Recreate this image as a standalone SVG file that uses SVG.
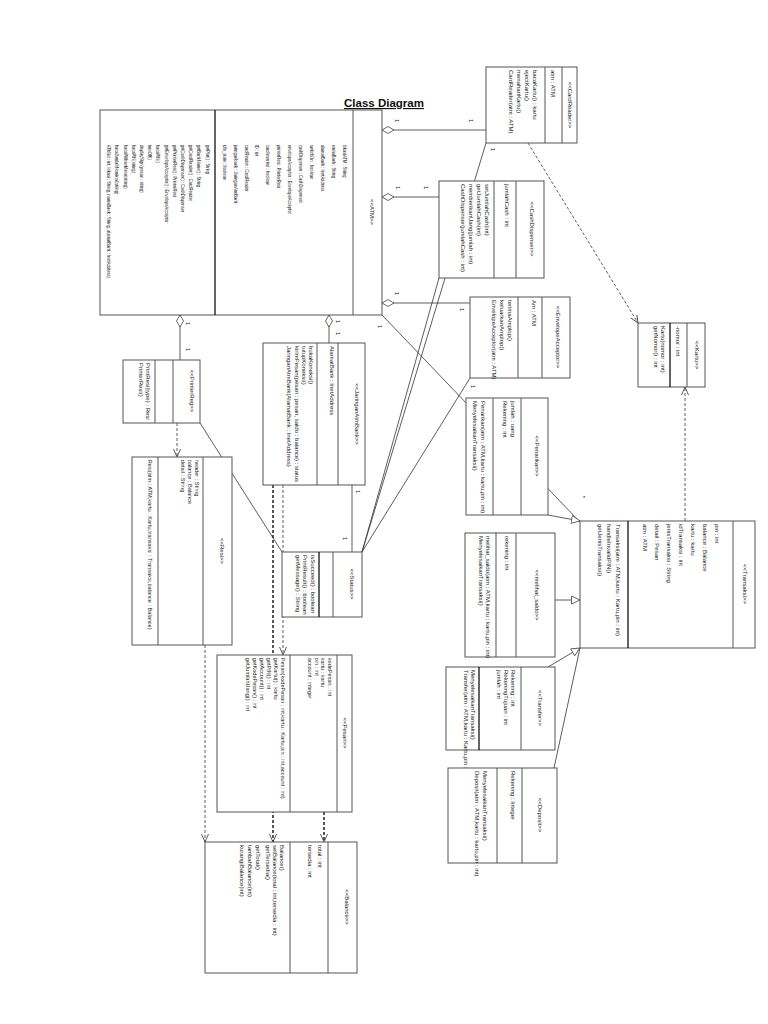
<svg xmlns="http://www.w3.org/2000/svg" width="768" height="1024" viewBox="0 0 768 1024">
<style>
.box{fill:#fff;stroke:#555;stroke-width:1}
.dv{stroke:#555;stroke-width:1}
.dk{stroke:#111;stroke-width:1.3}
.t{font-family:"Liberation Sans",Arial,sans-serif;font-size:6px;fill:#222}
.h{text-anchor:middle}
.c{stroke:#333;stroke-width:0.8;fill:none}
.d1{stroke-dasharray:3,2}
.d2{stroke-dasharray:3,2;stroke-width:1.4;stroke:#111}
.n{font-family:"Liberation Sans",Arial,sans-serif;font-size:6px;fill:#222}
</style>
<defs>
<marker id="dia" markerUnits="userSpaceOnUse" markerWidth="14" markerHeight="9" refX="0.5" refY="4" orient="auto"><path d="M0.5,4 L6.5,0.5 L12.5,4 L6.5,7.5 Z" fill="#fff" stroke="#444" stroke-width="0.8"/></marker>
<marker id="tri" markerUnits="userSpaceOnUse" markerWidth="10" markerHeight="10" refX="9" refY="4.5" orient="auto"><path d="M0.5,0.5 L9,4.5 L0.5,8.5 Z" fill="#fff" stroke="#444" stroke-width="0.8"/></marker>
<marker id="arr" markerUnits="userSpaceOnUse" markerWidth="10" markerHeight="10" refX="8" refY="4" orient="auto"><path d="M0,0.5 L8,4 L0,7.5" fill="none" stroke="#333" stroke-width="0.8"/></marker>
</defs>
<rect width="768" height="1024" fill="#fff"/>
<text x="384" y="107" text-anchor="middle" font-family="Liberation Sans,Arial,sans-serif" font-size="11.5" font-weight="bold" text-decoration="underline" fill="#111">Class Diagram</text>

<g id="connectors">
<line class="c" x1="382" y1="130" x2="486" y2="130" marker-start="url(#dia)"/>
<line class="c" x1="382" y1="197" x2="439" y2="197" marker-start="url(#dia)"/>
<line class="c" x1="382" y1="303" x2="470" y2="303" marker-start="url(#dia)"/>
<line class="c" x1="329" y1="315" x2="329" y2="343" marker-start="url(#dia)"/>
<line class="c" x1="180" y1="315" x2="180" y2="360" marker-start="url(#dia)"/>
<line class="c" x1="382" y1="315" x2="578" y2="520"/>
<line class="c" x1="548" y1="515" x2="580" y2="521" marker-end="url(#tri)"/>
<line class="c" x1="555" y1="600" x2="580" y2="600" marker-end="url(#tri)"/>
<line class="c" x1="548" y1="667" x2="580" y2="648" marker-end="url(#tri)"/>
<line class="c" x1="554" y1="768" x2="580" y2="648"/>
<line class="c" x1="486" y1="143" x2="362" y2="552"/>
<line class="c" x1="439" y1="278" x2="362" y2="552"/>
<line class="c" x1="470" y1="378" x2="362" y2="552"/>
<line class="c" x1="352" y1="485" x2="352" y2="552"/>
<line class="c" x1="200" y1="423" x2="282" y2="552"/>
<line class="c d1" x1="528" y1="143" x2="638" y2="323" marker-end="url(#arr)"/>
<line class="c d1" x1="685" y1="521" x2="685" y2="387" marker-end="url(#arr)"/>
<line class="c d1" x1="177" y1="423" x2="177" y2="457" marker-end="url(#arr)"/>
<line class="c d1" x1="283" y1="485" x2="283" y2="655" marker-end="url(#arr)"/>
<line class="c d2" x1="273" y1="485" x2="273" y2="842" marker-end="url(#arr)"/>
<line class="c d2" x1="324" y1="812" x2="324" y2="842" marker-end="url(#arr)"/>
<line class="c d1" x1="205" y1="645" x2="205" y2="842" marker-end="url(#arr)"/>
<g class="n">
<text transform="translate(395,119) rotate(90)">1</text>
<text transform="translate(469,119) rotate(90)">1</text>
<text transform="translate(396,186) rotate(90)">1</text>
<text transform="translate(424,186) rotate(90)">1</text>
<text transform="translate(395,292) rotate(90)">1</text>
<text transform="translate(460,308) rotate(90)">1</text>
<text transform="translate(336,320) rotate(90)">1</text>
<text transform="translate(336,332) rotate(90)">1</text>
<text transform="translate(186,322) rotate(90)">1</text>
<text transform="translate(186,348) rotate(90)">1</text>
<text transform="translate(378,325) rotate(90)">1</text>
<text transform="translate(491,148) rotate(90)">1</text>
<text transform="translate(471,385) rotate(90)">1</text>
<text transform="translate(356,490) rotate(90)">1</text>
<text transform="translate(343,537) rotate(90)">1</text>
<text x="583" y="500">*</text>
</g>
</g>

<g id="atm" transform="translate(382,110) rotate(90)">
<rect class="box" width="205" height="282"/>
<line class="dv" x1="0" y1="29" x2="205" y2="29"/>
<line class="dk" x1="0" y1="167" x2="205" y2="167"/>
<text class="t h" x="102" y="12">&lt;&lt;ATM&gt;&gt;</text>
<g transform="scale(0.68,1)" class="t">
<text x="51" y="39">lokasiATM : String</text>
<text x="51" y="50">namaBank : String</text>
<text x="51" y="61">alamatBank : InetAddress</text>
<text x="51" y="72">switchOn : boolean</text>
<text x="51" y="83">cashDispenser : CashDispenser</text>
<text x="51" y="94">envelopeAcceptor : EnvelopeAcceptor</text>
<text x="51" y="105">printerResi : PrinterResi</text>
<text x="51" y="116">cardInserted : boolean</text>
<text x="51" y="127">ID : int</text>
<text x="51" y="137">cardReader : CardReader</text>
<text x="51" y="148">jaringanbank : JaringanAtmBank</text>
<text x="51" y="159">idle_state : boolean</text>
<text x="51" y="176.5">getPlat() : String</text>
<text x="51" y="184.7">getBankName() : String</text>
<text x="51" y="192.9">getCardReader() : CardReader</text>
<text x="51" y="201.1">getCashDispenser() : CashDispenser</text>
<text x="51" y="209.3">getPrinterResi() : PrinterResi</text>
<text x="51" y="217.5">getEnvelopeAcceptor() : EnvelopeAcceptor</text>
<text x="51" y="225.7">bacaPIN()</text>
<text x="51" y="233.9">turnOff()</text>
<text x="51" y="242.1">displaySign(pesan : string)</text>
<text x="51" y="250.3">bacaPIN(string)</text>
<text x="51" y="258.5">bacaPilihanMenu(string)</text>
<text x="51" y="266.7">bacaJumlahNominal(string)</text>
<text x="51" y="274.9">ATM(id : int, lokasi : String, namaBank : String, alamatBank : InetAddress)</text>
</g>
</g>

<g id="cardreader" transform="translate(577,67) rotate(90)">
<rect class="box" width="76" height="91"/>
<line class="dv" x1="0" y1="15" x2="76" y2="15"/>
<line class="dv" x1="0" y1="32" x2="76" y2="32"/>
<g class="t">
<text class="h" x="38" y="9">&lt;&lt;CardReader&gt;&gt;</text>
<text x="3" y="26">atm : ATM</text>
<text x="3" y="44">bacaKartu() : kartu</text>
<text x="3" y="52">ejectKartu()</text>
<text x="3" y="60">menahanKartu()</text>
<text x="3" y="68">CardReader(atm : ATM)</text>
</g>
</g>

<g id="cashdispenser" transform="translate(544,181) rotate(90)">
<rect class="box" width="97" height="105"/>
<line class="dv" x1="0" y1="28" x2="97" y2="28"/>
<line class="dv" x1="0" y1="50" x2="97" y2="50"/>
<g class="t">
<text class="h" x="48" y="14">&lt;&lt;CashDispenser&gt;&gt;</text>
<text x="3" y="39">jumlahCash : int</text>
<text x="3" y="59">setJumlahCash(int)</text>
<text x="3" y="67">getJumlahCash(int)</text>
<text x="3" y="75">memberikanUang(jumlah : int)</text>
<text x="3" y="83">CashDispenser(jumlahCash : int)</text>
</g>
</g>

<g id="envelopeacceptor" transform="translate(570,297) rotate(90)">
<rect class="box" width="81" height="100"/>
<line class="dv" x1="0" y1="28" x2="81" y2="28"/>
<line class="dv" x1="0" y1="52" x2="81" y2="52"/>
<g class="t">
<text class="h" x="40" y="14">&lt;&lt;EnvelopeAcceptor&gt;&gt;</text>
<text x="3" y="38">Am : ATM</text>
<text x="3" y="62">terimaAmplop()</text>
<text x="3" y="70">keluarkanAmplop()</text>
<text x="3" y="78">EnvelopeAcceptor(atm : ATM)</text>
</g>
</g>

<g id="kartu" transform="translate(705,323) rotate(90)">
<rect class="box" width="64" height="67"/>
<line class="dv" x1="0" y1="18" x2="64" y2="18"/>
<line class="dk" x1="0" y1="35" x2="64" y2="35"/>
<g class="t">
<text class="h" x="32" y="10">&lt;&lt;Kartu&gt;&gt;</text>
<text x="3" y="29">-nomor : int</text>
<text x="3" y="44">Kartu(nomor : int)</text>
<text x="3" y="51">getNomor() : int</text>
</g>
</g>

<g id="penarikan" transform="translate(548,398) rotate(90)">
<rect class="box" width="117" height="82"/>
<line class="dv" x1="0" y1="27" x2="117" y2="27"/>
<line class="dv" x1="0" y1="55" x2="117" y2="55"/>
<g class="t">
<text class="h" x="58" y="13">&lt;&lt;Penarikan&gt;&gt;</text>
<text x="3" y="37">jumlah : uang</text>
<text x="3" y="45">Rekening : int</text>
<text x="3" y="67">Penarikan(atm : ATM,kartu : kartu,pin : int)</text>
<text x="3" y="75">MenyelesaikanTransaksi()</text>
</g>
</g>

<g id="transaksi" transform="translate(755,521) rotate(90)">
<rect class="box" width="127" height="175"/>
<line class="dv" x1="0" y1="22" x2="127" y2="22"/>
<line class="dk" x1="0" y1="127" x2="127" y2="127"/>
<g class="t">
<text class="h" x="63" y="12">&lt;&lt;Transaksi&gt;&gt;</text>
<text x="3" y="40">pin : int</text>
<text x="3" y="52">balance : Balance</text>
<text x="3" y="64">kartu : kartu</text>
<text x="3" y="76">idTransaksi : int</text>
<text x="3" y="88">jenisTransaksi : String</text>
<text x="3" y="100">detail : Pesan</text>
<text x="3" y="112">atm : ATM</text>
<text x="3" y="139">Transaksi(atm : ATM,kartu : Kartu,pin : int)</text>
<text x="3" y="148">handleInvalidPIN()</text>
<text x="3" y="157">getJenisTransaksi()</text>
</g>
</g>

<g id="melihat_saldo" transform="translate(555,533) rotate(90)">
<rect class="box" width="124" height="90"/>
<line class="dv" x1="0" y1="39" x2="124" y2="39"/>
<line class="dv" x1="0" y1="59" x2="124" y2="59"/>
<g class="t">
<text class="h" x="62" y="20">&lt;&lt;melihat_saldo&gt;&gt;</text>
<text x="3" y="50">rekening : int</text>
<text x="3" y="69">melihat_saldo(atm : ATM,kartu : kartu,pin : int)</text>
<text x="3" y="76">MenyelesaikanTransaksi()</text>
</g>
</g>

<g id="transfer" transform="translate(555,667) rotate(90)">
<rect class="box" width="83" height="109"/>
<line class="dv" x1="0" y1="34" x2="83" y2="34"/>
<line class="dk" x1="0" y1="76" x2="83" y2="76"/>
<g class="t">
<text class="h" x="41" y="17">&lt;&lt;Transfer&gt;&gt;</text>
<text x="3" y="44">Rekening : int</text>
<text x="3" y="51">RekeningTujuan : int</text>
<text x="3" y="58">jumlah : int</text>
<text x="3" y="84">MenyelesaikanTransaksi()</text>
<text x="3" y="91">Transfer(atm : ATM,kartu : Kartu,pin : int)</text>
</g>
</g>

<g id="deposit" transform="translate(557,768) rotate(90)">
<rect class="box" width="95" height="109"/>
<line class="dv" x1="0" y1="35" x2="95" y2="35"/>
<line class="dv" x1="0" y1="60" x2="95" y2="60"/>
<g class="t">
<text class="h" x="47" y="19">&lt;&lt;Deposit&gt;&gt;</text>
<text x="3" y="46">Rekening : Integer</text>
<text x="3" y="74">MenyelesaikanTransaksi()</text>
<text x="3" y="82">Deposit(atm : ATM,kartu : kartu,pin : int)</text>
</g>
</g>

<g id="jaringanatmbank" transform="translate(365,343) rotate(90)">
<rect class="box" width="142" height="102"/>
<line class="dv" x1="0" y1="27" x2="142" y2="27"/>
<line class="dv" x1="0" y1="48" x2="142" y2="48"/>
<g class="t">
<text class="h" x="71" y="10">&lt;&lt;JaringanAtmBank&gt;&gt;</text>
<text x="3" y="35">AlamatBank : InetAddress</text>
<text x="3" y="56">bukaKoneksi()</text>
<text x="3" y="63">tutupKoneksi()</text>
<text x="3" y="70">kirimPesan(pesan : pesan, saldo : balance) : status</text>
<text x="3" y="78">JaringanAtmBank(AlamatBank : InetAddress)</text>
</g>
</g>

<g id="printerreg" transform="translate(200,360) rotate(90)">
<rect class="box" width="63" height="77"/>
<line class="dv" x1="0" y1="27" x2="63" y2="27"/>
<line class="dv" x1="0" y1="45" x2="63" y2="45"/>
<g class="t">
<text class="h" x="31" y="10">&lt;&lt;PrinterReg&gt;&gt;</text>
<text x="3" y="54">PrintResi(type) : Resi</text>
<text x="3" y="61">PrinterResi()</text>
</g>
</g>

<g id="resi" transform="translate(232,457) rotate(90)">
<rect class="box" width="188" height="100"/>
<line class="dv" x1="0" y1="29" x2="188" y2="29"/>
<line class="dv" x1="0" y1="74" x2="188" y2="74"/>
<g class="t">
<text class="h" x="94" y="12">&lt;&lt;Resi&gt;&gt;</text>
<g transform="scale(0.93,1)">
<text x="3" y="37">header : String</text>
<text x="3" y="44">balance : Balance</text>
<text x="3" y="51">detail : String</text>
<text x="3" y="84">Resi(atm : ATM,kartu : Kartu,transaksi : Transaksi,balance : Balance)</text>
</g>
</g>
</g>

<g id="status" transform="translate(362,552) rotate(90)">
<rect class="box" width="65" height="80"/>
<line class="dv" x1="0" y1="29" x2="65" y2="29"/>
<line class="dk" x1="0" y1="43" x2="65" y2="43"/>
<g class="t">
<text class="h" x="32" y="12">&lt;&lt;Status&gt;&gt;</text>
<text x="3" y="51">isSucceed() : boolean</text>
<text x="3" y="59">PrintResult() : boolean</text>
<text x="3" y="66">getMessage() : String</text>
</g>
</g>

<g id="pesan" transform="translate(352,655) rotate(90)">
<rect class="box" width="157" height="135"/>
<line class="dv" x1="0" y1="15" x2="157" y2="15"/>
<line class="dv" x1="0" y1="62" x2="157" y2="62"/>
<g class="t">
<text class="h" x="78" y="9">&lt;&lt;Pesan&gt;&gt;</text>
<g transform="scale(0.93,1)">
<text x="3" y="24">kodePesan : int</text>
<text x="3" y="31">kartu : kartu</text>
<text x="3" y="37">pin : int</text>
<text x="3" y="44">account : integer</text>
<text x="3" y="71">Pesan(kodePesan : int,kartu : Kartu,pin : int,account : int)</text>
<text x="3" y="78">getKartu() : kartu</text>
<text x="3" y="85">getPIN() : int</text>
<text x="3" y="92">getAccount() : int</text>
<text x="3" y="99">getKodePesan() : int</text>
<text x="3" y="106">getJumlahUang() : int</text>
</g>
</g>
</g>

<g id="balance" transform="translate(357,842) rotate(90)">
<rect class="box" width="131" height="152"/>
<line class="dv" x1="0" y1="29" x2="131" y2="29"/>
<line class="dv" x1="0" y1="67" x2="131" y2="67"/>
<g class="t">
<text class="h" x="65" y="12">&lt;&lt;Balance&gt;&gt;</text>
<text x="3" y="39">total : int</text>
<text x="3" y="49">tersedia : int</text>
<text x="3" y="77">Balance()</text>
<text x="3" y="84">setBalance(total : int,tersedia : int)</text>
<text x="3" y="91">getTersedia()</text>
<text x="3" y="101">getTotal()</text>
<text x="3" y="109">tambahBalance(int)</text>
<text x="3" y="117">kurangiBalance(int)</text>
</g>
</g>
</svg>
